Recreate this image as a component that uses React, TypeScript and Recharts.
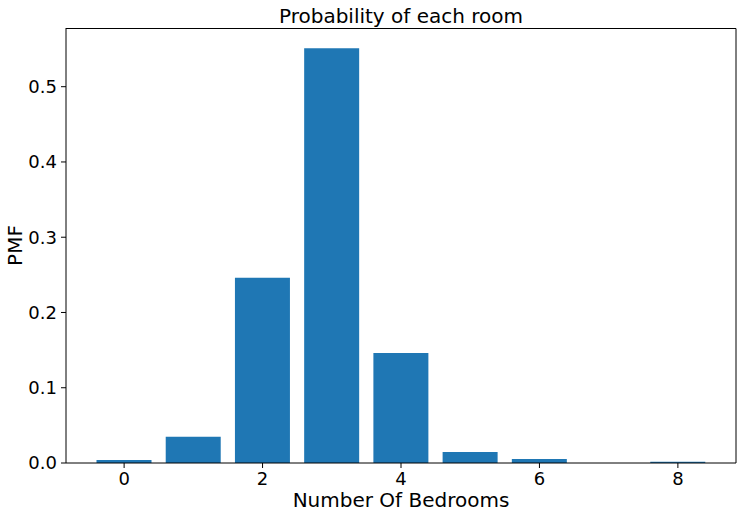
import { BarChart, Bar, XAxis, YAxis } from "recharts";

const bedrooms = ["0", "1", "2", "3", "4", "5", "6", "7", "8"];
const pmf = [0.004, 0.035, 0.246, 0.551, 0.146, 0.0145, 0.0052, 0, 0.0015];
const yTicks = [0, 0.1, 0.2, 0.3, 0.4, 0.5];

const font = "'DejaVu Sans', sans-serif";

const data = bedrooms.map((b, i) => ({ rooms: b, pmf: pmf[i] }));

export default function App() {
  return (
    <div
      style={{
        position: "absolute",
        left: 0,
        top: 0,
        width: 742,
        height: 518,
        background: "#fff",
        fontFamily: font,
      }}
    >
      <div
        style={{
          position: "absolute",
          left: 66,
          width: 670,
          top: 4,
          textAlign: "center",
          fontSize: 20,
          color: "#000",
        }}
      >
        Probability of each room
      </div>
      <BarChart
        width={742}
        height={518}
        data={data}
        margin={{ top: 28, right: 6, left: 0, bottom: 0 }}
        style={{ fontFamily: font }}
      >
        <XAxis
          dataKey="rooms"
          interval={1}
          height={55}
          padding={{ left: 23.5, right: 23.5 }}
          tick={{ fill: "#000", fontSize: 18 }}
          tickSize={5}
          tickMargin={4}
          axisLine={{ stroke: "#000" }}
          tickLine={{ stroke: "#000" }}
          label={{
            value: "Number Of Bedrooms",
            position: "insideBottom",
            offset: 11,
            fill: "#000",
            fontSize: 20,
          }}
        />
        <YAxis
          width={66}
          domain={[0, 0.578]}
          ticks={yTicks}
          tickFormatter={(v: number) => v.toFixed(1)}
          tick={{ fill: "#000", fontSize: 18 }}
          tickSize={5}
          tickMargin={4}
          axisLine={{ stroke: "#000" }}
          tickLine={{ stroke: "#000" }}
          allowDataOverflow
          label={{
            content: (props: any) => {
              const vb = props.viewBox || {};
              const cy = (vb.y ?? 28) + (vb.height ?? 435) / 2;
              return (
                <text
                  x={22}
                  y={cy}
                  transform={`rotate(-90 22 ${cy})`}
                  textAnchor="middle"
                  fontSize={20}
                  fill="#000"
                  fontFamily={font}
                >
                  PMF
                </text>
              );
            },
          }}
        />
        <Bar dataKey="pmf" fill="#1f77b4" barSize={55} isAnimationActive={false} />
      </BarChart>
      {/* frame: top and right spines */}
      <svg
        width={742}
        height={518}
        style={{ position: "absolute", left: 0, top: 0, pointerEvents: "none" }}
      >
        <path d="M66 28.5 H736 V463" fill="none" stroke="#000" strokeWidth={1} />
      </svg>
    </div>
  );
}
